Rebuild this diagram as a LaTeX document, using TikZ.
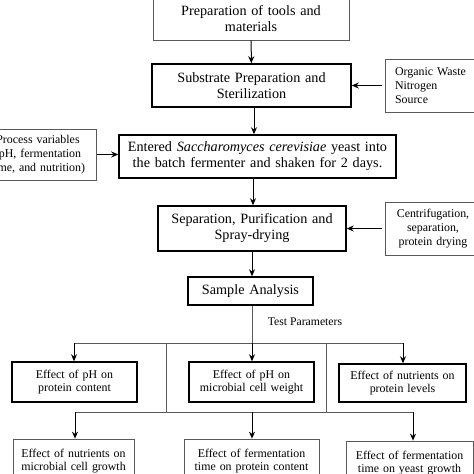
\documentclass[tikz,border=0pt]{standalone}
\usepackage{fontspec}
\setmainfont{Liberation Serif}
\usetikzlibrary{arrows.meta}
\begin{document}
\begin{tikzpicture}[x=1pt,y=-1pt,
  bigfont/.style={font=\fontsize{14.2}{16}\selectfont},
  smallfont/.style={font=\fontsize{11.9}{13.7}\selectfont},
  boxbase/.style={align=center,inner sep=0pt},
  thickbox/.style={boxbase,draw=black,line width=1.5pt},
  thinbox/.style={boxbase,draw=black!65,line width=0.7pt},
  arr/.style={-{Stealth[length=7pt,width=6pt]},line width=1pt,draw=black},
  treeline/.style={line width=0.7pt,draw=black!65}]
\useasboundingbox (0,0) rectangle (474,474);
\fill[white] (0,0) rectangle (474,474);

% main column
\node[thinbox,bigfont,minimum width=196pt,minimum height=43pt,text width=186pt] (b1) at (251,18.5) {Preparation of tools and\\materials};
\node[thickbox,bigfont,minimum width=199pt,minimum height=43pt,text width=189pt] (b2) at (251.5,85.5) {Substrate Preparation and\\Sterilization};
\node[thickbox,bigfont,minimum width=277pt,minimum height=43pt,text width=267pt] (b3) at (257.5,156.5) {Entered \textit{Saccharomyces cerevisiae} yeast into\\the batch fermenter and shaken for 2 days.};
\node[thickbox,bigfont,minimum width=188pt,minimum height=45pt,text width=178pt] (b4) at (252,228.5) {Separation, Purification and\\Spray-drying};
\node[thickbox,bigfont,minimum width=125pt,minimum height=28pt,text width=115pt] (b5) at (250.5,291) {Sample Analysis};

% side boxes
\node[thinbox,smallfont,minimum width=95pt,minimum height=53pt,text width=75pt,align=left] (on) at (432.5,85.5) {Organic Waste\\Nitrogen\\Source};
\node[thinbox,smallfont,minimum width=116pt,minimum height=51pt,text width=106pt] (pv) at (38,154.5) {Process variables\\(pH, fermentation\\time, and nutrition)};
\node[thinbox,smallfont,minimum width=96pt,minimum height=53pt,text width=86pt] (cs) at (433,228.5) {Centrifugation,\\separation,\\protein drying};

% row 1
\node[thickbox,smallfont,minimum width=125pt,minimum height=40pt,text width=115pt] (ra) at (74.5,382) {Effect of pH on\\protein content};
\node[thickbox,smallfont,minimum width=125pt,minimum height=40pt,text width=115pt] (rb) at (251.5,382) {Effect of pH on\\microbial cell weight};
\node[thickbox,smallfont,minimum width=127pt,minimum height=38pt,text width=117pt] (rc) at (402.5,383) {Effect of nutrients on\\protein levels};

% row 2
\node[thinbox,smallfont,minimum width=121pt,minimum height=44pt,text width=111pt] (rd) at (73.5,461) {Effect of nutrients on\\microbial cell growth};
\node[thinbox,smallfont,minimum width=135pt,minimum height=44pt,text width=125pt] (re) at (251.5,461) {Effect of fermentation\\time on protein content};
\node[thinbox,smallfont,minimum width=127pt,minimum height=44pt,text width=117pt] (rf) at (409.5,463) {Effect of fermentation\\time on yeast growth};

% label
\node[font=\fontsize{11.7}{13}\selectfont,inner sep=0pt] (tp) at (305,322) {Test Parameters};

% main arrows
\draw[arr] (b1) -- (b2);
\draw[arr] (b2.south -| 254,0) -- (b3.north -| 254,0);
\draw[arr] (b3.south -| 253,0) -- (b4.north -| 253,0);
\draw[arr] (b4.south) -- (b5.north -| b4.south);
\draw[arr,shorten <=3pt] (on.west) -- (b2.east);
\draw[arr,shorten <=1pt] (pv.east) -- (b3.west |- pv.east);
\draw[arr,shorten <=3pt] (cs.west) -- (b4.east);

% tree
\coordinate (t0) at (252,343);
\coordinate (h1l) at (74,343);
\coordinate (h1r) at (403,343);
\coordinate (v1t) at (166,343);
\coordinate (v2t) at (326,343);
\coordinate (v1b) at (166,412);
\coordinate (v2b) at (326,412);
\coordinate (h2l) at (75,412);
\coordinate (h2m) at (252,412);
\coordinate (h2r) at (413,412);
\draw[treeline] (b5.south -| t0) -- (t0);
\draw[treeline] (h1l) -- (h1r);
\draw[treeline] (v1t) -- (v1b);
\draw[treeline] (v2t) -- (v2b);
\draw[treeline] (h2l) -- (h2r);
\draw[arr] (h1l) -- (h1l |- ra.north);
\draw[arr] (t0) -- (t0 |- rb.north);
\draw[arr] (h1r) -- (h1r |- rc.north);
\draw[arr] (h2l) -- (h2l |- rd.north);
\draw[arr] (h2m) -- (h2m |- re.north);
\draw[arr] (h2r) -- (h2r |- rf.north);
\end{tikzpicture}
\end{document}
